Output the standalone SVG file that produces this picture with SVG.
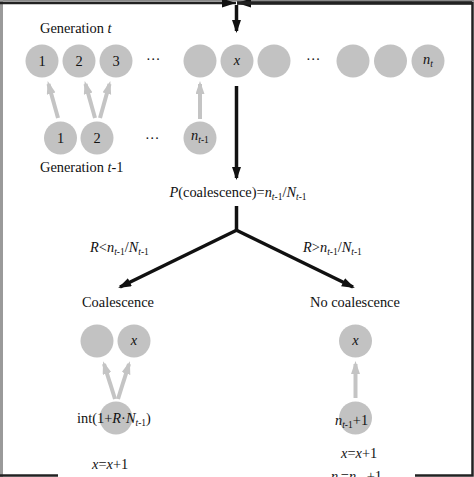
<svg xmlns="http://www.w3.org/2000/svg" width="474" height="477" viewBox="0 0 474 477">
<style>
text{font-family:"Liberation Serif","Times New Roman",serif;font-size:14.4px;fill:#111}
.i{font-style:italic}
.s{font-size:9.5px}
.c{fill:#c2c2c2}
.m{text-anchor:middle}
.g{stroke:#c4c4c4;stroke-width:4;fill:none;marker-end:url(#ga)}
.b{stroke:#111;stroke-width:3.5;fill:none;marker-end:url(#ba)}
.f{stroke:#222;stroke-width:2.5;fill:none}
.fa{marker-end:url(#fa)}
</style>
<defs>
<marker id="ba" markerUnits="userSpaceOnUse" markerWidth="14" markerHeight="10" refX="11" refY="4.5" orient="auto"><path d="M0,0L13,4.5L0,9z" fill="#111"/></marker>
<marker id="fa" markerUnits="userSpaceOnUse" markerWidth="15" markerHeight="10" refX="14" refY="4.5" orient="auto"><path d="M0,0L14,4.5L0,9z" fill="#111"/></marker>
<marker id="ga" markerUnits="userSpaceOnUse" markerWidth="14" markerHeight="10" refX="10" refY="4.5" orient="auto"><path d="M0,0L13,4.5L0,9z" fill="#c4c4c4"/></marker>
</defs>
<rect width="474" height="477" fill="#fff"/>
<g id="connectors">
<rect x="0" y="0" width="474" height="1.5" fill="#8a8a8a"/>
<line x1="1.5" y1="0" x2="1.5" y2="477" stroke="#9a9a9a" stroke-width="3"/>
<path class="f fa" d="M0,3H236" stroke-width="3.5"/>
<path class="f" d="M58,475.5H0"/>
<path class="f fa" d="M415,475.5H472.5V3H237"/>
<line x1="237" y1="3" x2="472" y2="3" stroke="#222" stroke-width="3.5"/>
<line class="b" x1="236.5" y1="5" x2="236.5" y2="31"/>
<line class="b" x1="236.5" y1="86" x2="236.5" y2="178"/>
<line x1="236.5" y1="206" x2="236.5" y2="231" stroke="#111" stroke-width="3.5"/>
<line class="b" x1="237" y1="230" x2="120" y2="287"/>
<line class="b" x1="236" y1="230" x2="353" y2="287"/>
<line class="g" x1="58" y1="118" x2="48.5" y2="84"/>
<line class="g" x1="95" y1="118" x2="85.5" y2="84"/>
<line class="g" x1="100" y1="118" x2="109.5" y2="84"/>
<line class="g" x1="200" y1="119" x2="200" y2="84"/>
<line class="g" x1="115" y1="399" x2="104" y2="364"/>
<line class="g" x1="118" y1="399" x2="129" y2="364"/>
<line class="g" x1="355.5" y1="398" x2="355.5" y2="364"/>
</g>
<g id="labels">
<text x="40" y="33">Generation <tspan class="i">t</tspan></text>
<text x="40" y="172">Generation <tspan class="i">t</tspan>-1</text>
<text x="146" y="60">…</text>
<text x="306" y="60">…</text>
<text x="145" y="139">…</text>
<text class="m" x="238" y="197"><tspan class="i">P</tspan>(coalescence)=<tspan class="i">n</tspan><tspan class="s" dy="3"><tspan class="i">t</tspan>-1</tspan><tspan dy="-3">/</tspan><tspan class="i">N</tspan><tspan class="s" dy="3"><tspan class="i">t</tspan>-1</tspan></text>
<text x="90" y="252"><tspan class="i">R</tspan>&lt;<tspan class="i">n</tspan><tspan class="s" dy="3"><tspan class="i">t</tspan>-1</tspan><tspan dy="-3">/</tspan><tspan class="i">N</tspan><tspan class="s" dy="3"><tspan class="i">t</tspan>-1</tspan></text>
<text x="303" y="252"><tspan class="i">R</tspan>&gt;<tspan class="i">n</tspan><tspan class="s" dy="3"><tspan class="i">t</tspan>-1</tspan><tspan dy="-3">/</tspan><tspan class="i">N</tspan><tspan class="s" dy="3"><tspan class="i">t</tspan>-1</tspan></text>
<text x="82" y="307">Coalescence</text>
<text x="310" y="307">No coalescence</text>
<text x="92" y="469"><tspan class="i">x</tspan>=<tspan class="i">x</tspan>+1</text>
<text x="341" y="458"><tspan class="i">x</tspan>=<tspan class="i">x</tspan>+1</text>
<text x="331" y="481"><tspan class="i">n</tspan><tspan class="s" dy="3"><tspan class="i">t</tspan></tspan><tspan dy="-3">=</tspan><tspan class="i">n</tspan><tspan class="s" dy="3"><tspan class="i">t</tspan>-1</tspan><tspan dy="-3">+1</tspan></text>
</g>
<g id="gen-t">
<g id="t1"><circle class="c" cx="42" cy="61" r="16.5"/><text class="m" x="42" y="66">1</text></g>
<g id="t2"><circle class="c" cx="79" cy="61" r="16.5"/><text class="m" x="79" y="66">2</text></g>
<g id="t3"><circle class="c" cx="116" cy="61" r="16.5"/><text class="m" x="116" y="66">3</text></g>
<g id="t4"><circle class="c" cx="200" cy="61" r="16.5"/></g>
<g id="tx"><circle class="c" cx="237" cy="61" r="16.5"/><text class="m i" x="237" y="65">x</text></g>
<g id="t6"><circle class="c" cx="274" cy="61" r="16.5"/></g>
<g id="t7"><circle class="c" cx="353" cy="61" r="16.5"/></g>
<g id="t8"><circle class="c" cx="390.5" cy="61" r="16.5"/></g>
<g id="tn"><circle class="c" cx="428" cy="61" r="16.5"/><text class="m" x="428" y="64"><tspan class="i">n</tspan><tspan class="s i" dy="3">t</tspan></text></g>
</g>
<g id="gen-t-1">
<g id="p1"><circle class="c" cx="60.5" cy="138" r="16.5"/><text class="m" x="60.5" y="143">1</text></g>
<g id="p2"><circle class="c" cx="97" cy="138" r="16.5"/><text class="m" x="97" y="143">2</text></g>
<g id="pn"><circle class="c" cx="200" cy="138" r="16.5"/><text class="m" x="200" y="140"><tspan class="i">n</tspan><tspan class="s" dy="3"><tspan class="i">t</tspan>-1</tspan></text></g>
</g>
<g id="coalescence">
<g id="c1"><circle class="c" cx="97" cy="341" r="16.5"/></g>
<g id="cx"><circle class="c" cx="134" cy="341" r="16.5"/><text class="m i" x="134" y="345">x</text></g>
<g id="cp"><circle class="c" cx="116" cy="418" r="16.5"/><text x="77" y="423">int(1+<tspan class="i">R</tspan>·<tspan class="i">N</tspan><tspan class="s" dy="3"><tspan class="i">t</tspan>-1</tspan><tspan dy="-3">)</tspan></text></g>
</g>
<g id="no-coalescence">
<g id="nx"><circle class="c" cx="355.5" cy="341" r="16.5"/><text class="m i" x="355.5" y="345">x</text></g>
<g id="np"><circle class="c" cx="355.5" cy="418" r="16.5"/><text x="335" y="425"><tspan class="i">n</tspan><tspan class="s" dy="3"><tspan class="i">t</tspan>-1</tspan><tspan dy="-3">+1</tspan></text></g>
</g>
</svg>
